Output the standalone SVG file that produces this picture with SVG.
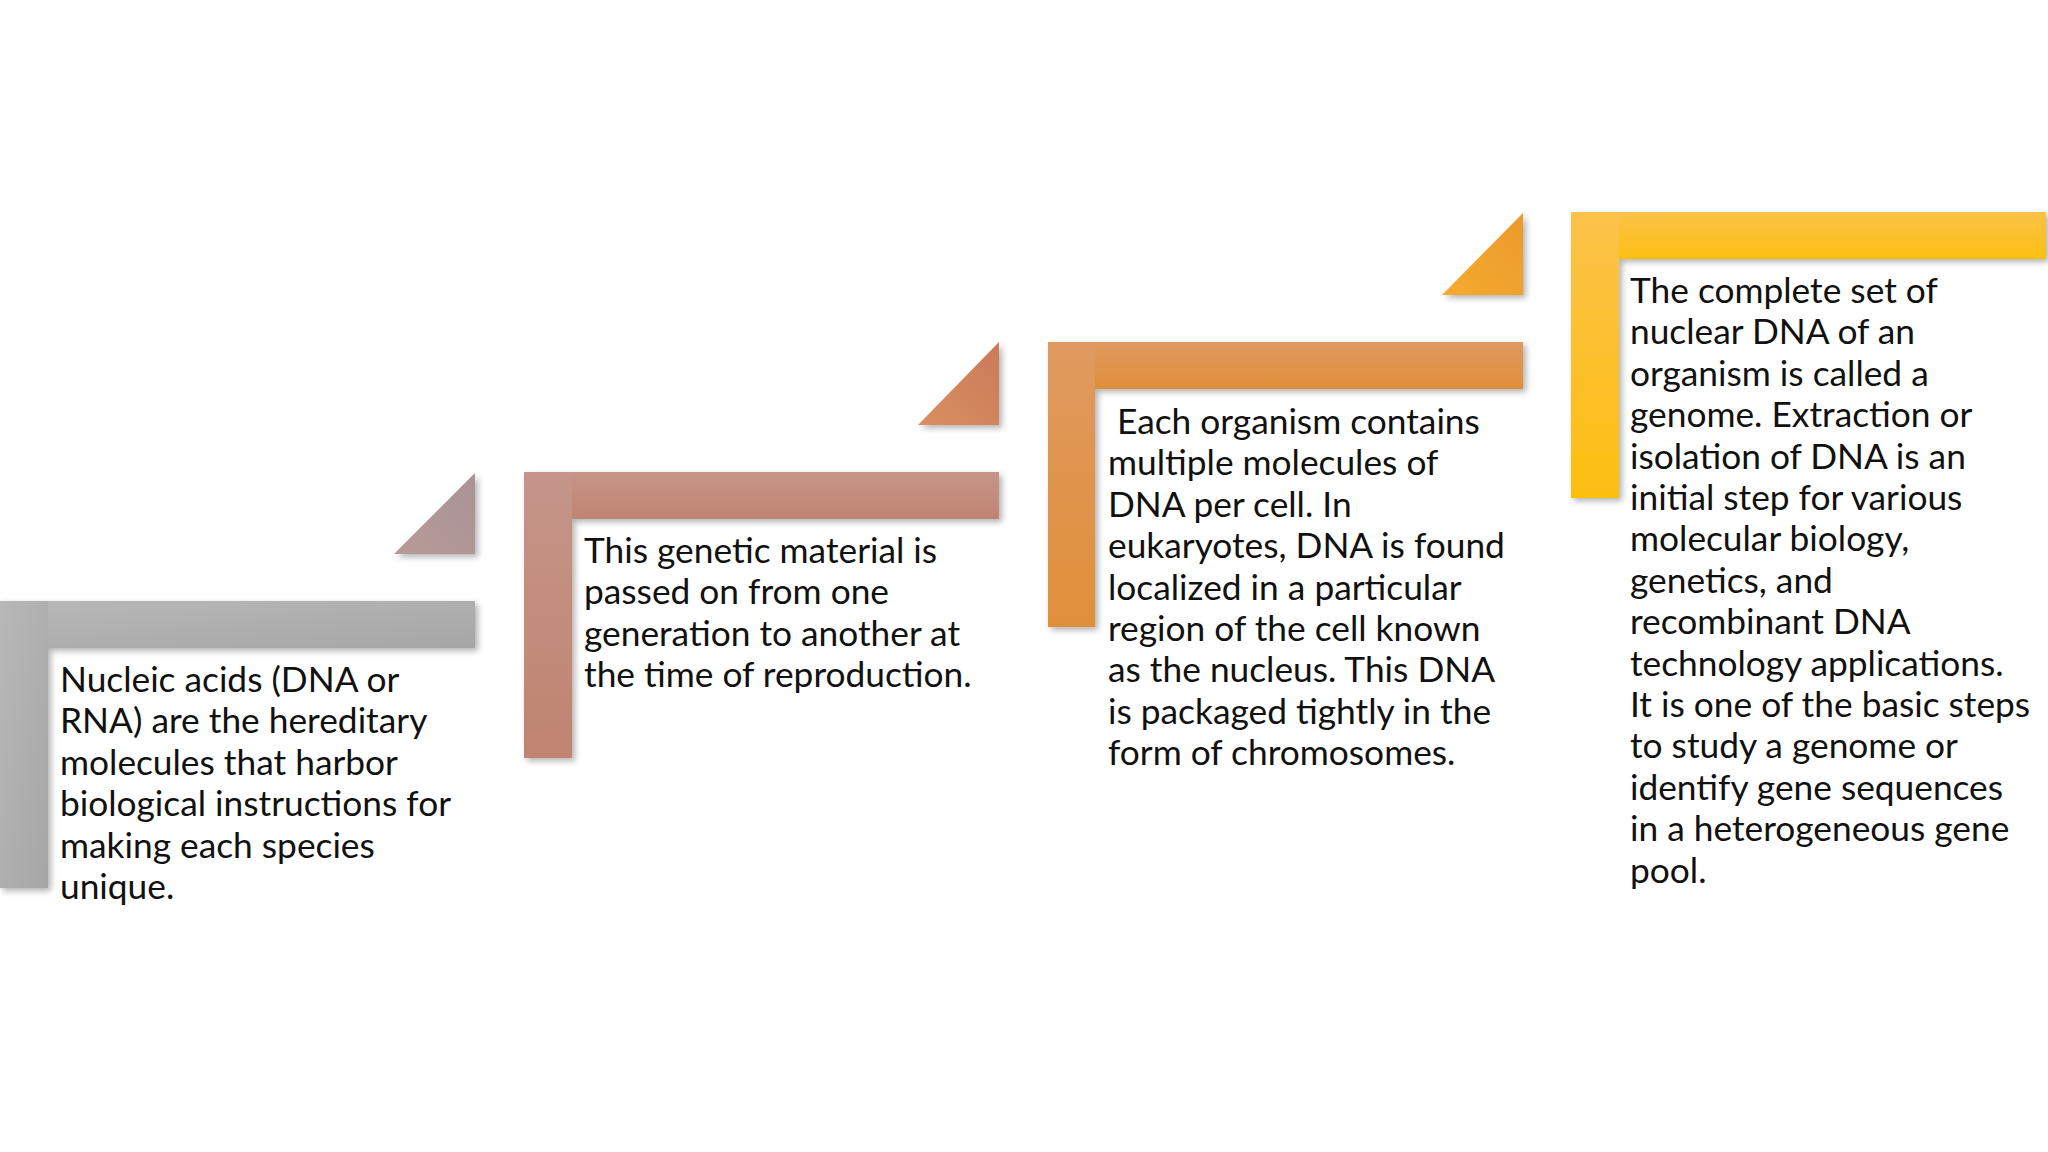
<svg xmlns="http://www.w3.org/2000/svg" width="2048" height="1152" viewBox="0 0 2048 1152">
<defs>
<filter id="sh" x="-10%" y="-10%" width="130%" height="130%"><feDropShadow dx="3" dy="3" stdDeviation="3" flood-color="#000" flood-opacity="0.3"/></filter>
<linearGradient id="g1" x1="0" y1="0" x2="1" y2="1"><stop offset="0" stop-color="#b8b8b8"/><stop offset="1" stop-color="#a6a6a6"/></linearGradient>
<linearGradient id="t1" x1="0" y1="1" x2="1" y2="0"><stop offset="0" stop-color="#b79a98"/><stop offset="1" stop-color="#a89494"/></linearGradient>
<linearGradient id="g2" x1="0" y1="0" x2="0" y2="1"><stop offset="0" stop-color="#c5958a"/><stop offset="1" stop-color="#c08470"/></linearGradient>
<linearGradient id="t2" x1="0" y1="1" x2="1" y2="0"><stop offset="0" stop-color="#d99060"/><stop offset="1" stop-color="#c97a5a"/></linearGradient>
<linearGradient id="g3" x1="0" y1="0" x2="0" y2="1"><stop offset="0" stop-color="#e09a60"/><stop offset="1" stop-color="#e0903a"/></linearGradient>
<linearGradient id="t3" x1="0" y1="1" x2="1" y2="0"><stop offset="0" stop-color="#f6aa30"/><stop offset="1" stop-color="#eb9a2c"/></linearGradient>
<linearGradient id="g4" x1="0" y1="0" x2="0" y2="1"><stop offset="0" stop-color="#fcc24a"/><stop offset="1" stop-color="#fcbf10"/></linearGradient>
</defs>
<style>
text{font-family:Lato,"Liberation Sans",sans-serif;font-size:35.3px;fill:#111}
</style>
<rect width="2048" height="1152" fill="#fff"/>
<g id="step1" filter="url(#sh)">
<polygon points="394,554 475,473 475,554" fill="url(#t1)"/>
<rect x="0" y="601" width="475" height="47" fill="url(#g1)"/>
<rect x="0" y="601" width="48" height="287" fill="url(#g1)"/>
</g>
<text x="60" y="692"><tspan x="60">Nucleic acids (DNA or</tspan><tspan x="60" dy="41.4">RNA) are the hereditary</tspan><tspan x="60" dy="41.4">molecules that harbor</tspan><tspan x="60" dy="41.4">biological instructions for</tspan><tspan x="60" dy="41.4">making each species</tspan><tspan x="60" dy="41.4">unique.</tspan></text>
<g id="step2" filter="url(#sh)">
<polygon points="918,425 999,342 999,425" fill="url(#t2)"/>
<rect x="524" y="472" width="475" height="47" fill="url(#g2)"/>
<rect x="524" y="472" width="48" height="286" fill="url(#g2)"/>
</g>
<text x="584" y="563"><tspan x="584">This genetic material is</tspan><tspan x="584" dy="41.4">passed on from one</tspan><tspan x="584" dy="41.4">generation to another at</tspan><tspan x="584" dy="41.4">the time of reproduction.</tspan></text>
<g id="step3" filter="url(#sh)">
<polygon points="1442,295 1523,213 1523,295" fill="url(#t3)"/>
<rect x="1048" y="342" width="475" height="47" fill="url(#g3)"/>
<rect x="1048" y="342" width="47" height="285" fill="url(#g3)"/>
</g>
<text x="1108" y="434" xml:space="preserve"><tspan x="1108"> Each organism contains</tspan><tspan x="1108" dy="41.4">multiple molecules of</tspan><tspan x="1108" dy="41.4">DNA per cell. In</tspan><tspan x="1108" dy="41.4">eukaryotes, DNA is found</tspan><tspan x="1108" dy="41.4">localized in a particular</tspan><tspan x="1108" dy="41.4">region of the cell known</tspan><tspan x="1108" dy="41.4">as the nucleus. This DNA</tspan><tspan x="1108" dy="41.4">is packaged tightly in the</tspan><tspan x="1108" dy="41.4">form of chromosomes.</tspan></text>
<g id="step4" filter="url(#sh)">
<rect x="1571" y="212" width="475" height="47" fill="url(#g4)"/>
<rect x="1571" y="212" width="48" height="286" fill="url(#g4)"/>
</g>
<text x="1630" y="303"><tspan x="1630">The complete set of</tspan><tspan x="1630" dy="41.4">nuclear DNA of an</tspan><tspan x="1630" dy="41.4">organism is called a</tspan><tspan x="1630" dy="41.4">genome. Extraction or</tspan><tspan x="1630" dy="41.4">isolation of DNA is an</tspan><tspan x="1630" dy="41.4">initial step for various</tspan><tspan x="1630" dy="41.4">molecular biology,</tspan><tspan x="1630" dy="41.4">genetics, and</tspan><tspan x="1630" dy="41.4">recombinant DNA</tspan><tspan x="1630" dy="41.4">technology applications.</tspan><tspan x="1630" dy="41.4">It is one of the basic steps</tspan><tspan x="1630" dy="41.4">to study a genome or</tspan><tspan x="1630" dy="41.4">identify gene sequences</tspan><tspan x="1630" dy="41.4">in a heterogeneous gene</tspan><tspan x="1630" dy="41.4">pool.</tspan></text>
<g id="connectors"/>
</svg>
